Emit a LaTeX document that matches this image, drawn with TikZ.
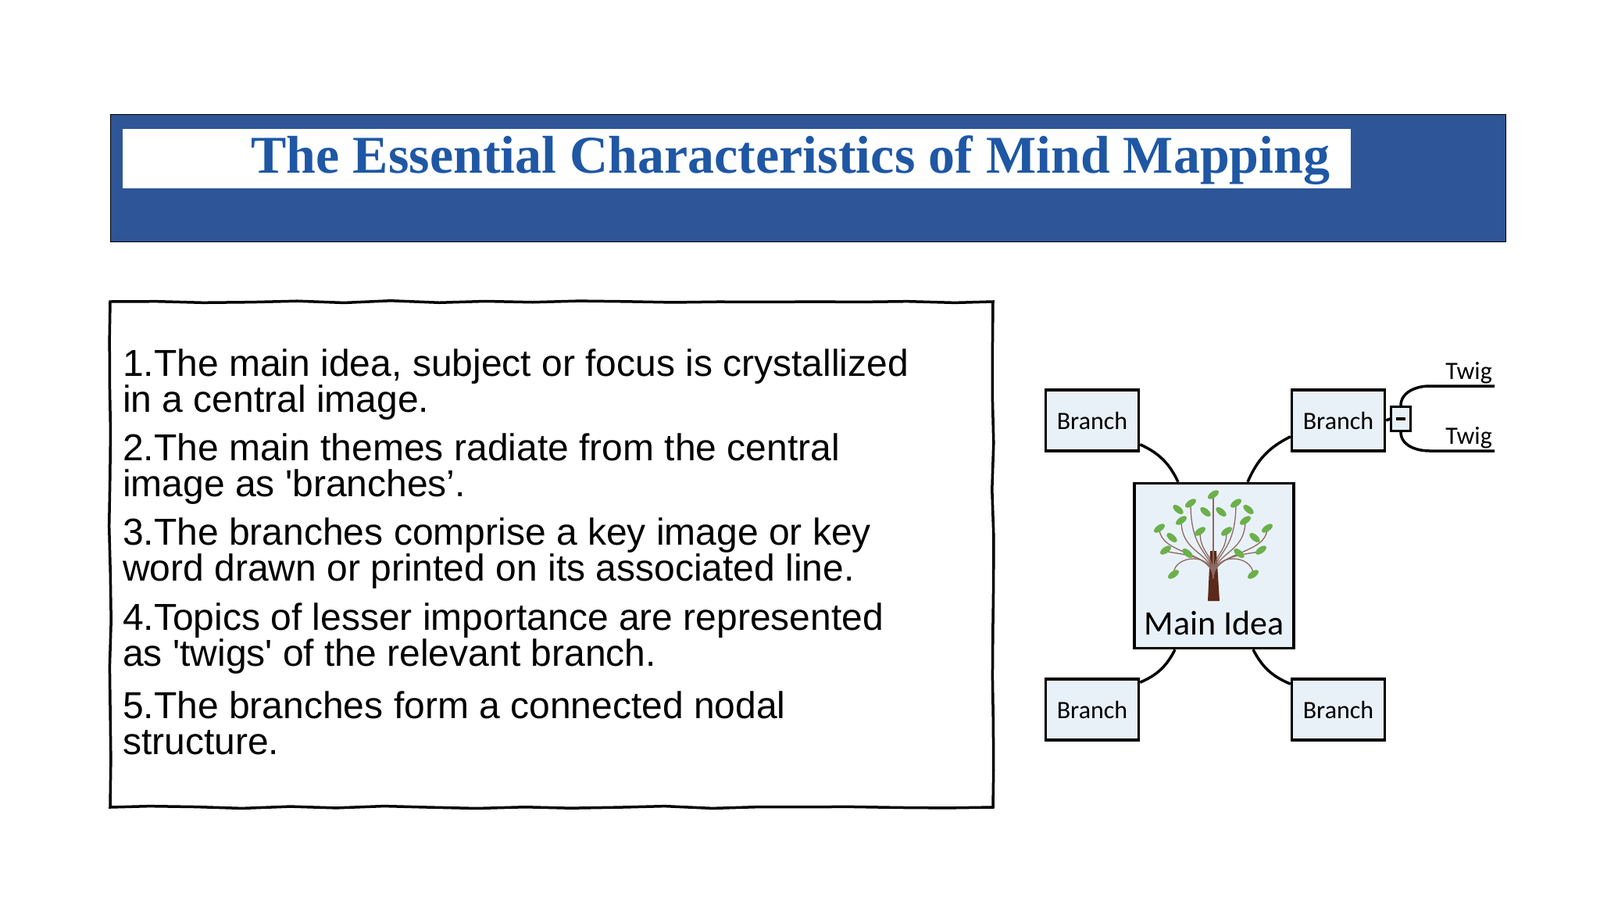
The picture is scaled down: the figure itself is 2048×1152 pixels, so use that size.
\documentclass[tikz,border=0pt]{standalone}
\usepackage{fontspec}
\setmainfont{Liberation Sans}
\newfontfamily\titlefont{Liberation Serif}
\newfontfamily\mapfont{Carlito}
\usetikzlibrary{positioning, arrows.meta, decorations.pathmorphing}
\definecolor{bandblue}{HTML}{2E5597}
\definecolor{titleblue}{HTML}{1F57A4}
\definecolor{boxfill}{HTML}{E9F1F8}
\definecolor{leafgreen}{HTML}{6BB04A}
\definecolor{trunk}{HTML}{5A2A1A}
\tikzset{
  branch/.style={draw, line width=3.5pt, fill=boxfill, minimum width=119pt, minimum height=78pt,
    font=\mapfont\fontsize{32}{36}\selectfont},
  link/.style={line width=3.5pt},
  twig/.style={anchor=south east, inner sep=3pt, font=\mapfont\fontsize{32}{34}\selectfont},
  point/.style={anchor=west, align=left, inner sep=0pt, font=\fontsize{48}{46}\selectfont}
}
\begin{document}
\begin{tikzpicture}[x=1pt, y=-1pt]
  \useasboundingbox (0,0) rectangle (2048,1152);
  \fill[white] (0,0) rectangle (2048,1152);

  % Title band
  \fill[bandblue] (141,146) rectangle (1927,309);
  \draw[black, line width=1pt] (141,146) rectangle (1927,309);
  \fill[white] (157,165) rectangle (1729,241);
  \node[titleblue, font=\titlefont\bfseries\fontsize{68}{72}\selectfont] (title) at (1012,205)
    {The Essential Characteristics of Mind Mapping};

  % Hand drawn text box
  \draw[line width=3.5pt, decorate, decoration={random steps, segment length=60pt, amplitude=1.5pt}]
    (141,386) -- (1271,386) -- (1271,1033) -- (141,1033) -- cycle;

  % Points
  \node[point] (p1) at (157,492) {1.The main idea, subject or focus is crystallized\\in a central image.};
  \node[point] (p2) at (157,600) {2.The main themes radiate from the central\\image as \textquotesingle branches’.};
  \node[point] (p3) at (157,708) {3.The branches comprise a key image or key\\word drawn or printed on its associated line.};
  \node[point] (p4) at (157,817) {4.Topics of lesser importance are represented\\as \textquotesingle twigs\textquotesingle{} of the relevant branch.};
  \node[point] (p5) at (157,925) {5.The branches form a connected nodal\\structure.};

  % Mind map
  \node[branch, minimum width=204pt, minimum height=211pt] (main) at (1554,724) {};
  \node[font=\mapfont\fontsize{44}{48}\selectfont] (mainlabel) at (1554,797) {Main Idea};
  \node[branch] (b1) at (1398,538) {Branch};
  \node[branch] (b2) at (1713,538) {Branch};
  \node[branch] (b3) at (1398,908) {Branch};
  \node[branch] (b4) at (1713,908) {Branch};

  \draw[link] ([yshift=10pt]b1.south east) to[bend left=20] ([xshift=-46pt]main.north);
  \draw[link] ([yshift=20pt]b2.south west) to[bend right=20] ([xshift=43pt]main.north);
  \draw[link] ([xshift=-50pt]main.south) to[bend left=20] ([yshift=-6pt]b3.north east);
  \draw[link] ([xshift=50pt]main.south) to[bend right=20] ([yshift=-8pt]b4.north west);

  % Twigs
  \node[draw, line width=2.5pt, fill=boxfill, minimum width=25pt, minimum height=31pt, inner sep=0pt] (minus) at (1793,536) {};
  \draw[line width=3.5pt] ([xshift=-6pt]minus.center) -- ([xshift=6pt]minus.center);
  \draw[link] (b2.east) -- (minus.west);
  \coordinate (t1) at (1913,494);
  \coordinate (t2) at (1913,577);
  \draw[link] (minus.north) to[out=90, in=180] (1830,494) -- (t1);
  \draw[link] (minus.south) to[out=-90, in=180] (1830,577) -- (t2);
  \node[twig] (tw1) at (t1) {Twig};
  \node[twig] (tw2) at (t2) {Twig};

  % Tree
  \fill[trunk] (1546,769) -- (1549,705) -- (1557,705) -- (1561,769) -- cycle;
  \foreach \ex/\ey in {1484/676, 1492/704, 1502/735, 1512/666, 1524/644, 1536/680,
                       1553/633, 1570/680, 1582/644, 1594/666, 1604/735, 1614/704, 1622/676} {
    \draw[trunk!70, line width=1.3pt] (1553,740) .. controls (1553,705) and (\ex,710) .. (\ex,\ey);
    \fill[leafgreen, rotate around={35:(\ex,\ey)}] (\ex,\ey) ellipse (8pt and 4pt);
  }
  \foreach \ex/\ey in {1500/688, 1520/708, 1543/655, 1563/655, 1586/708, 1606/688, 1508/652, 1598/652} {
    \fill[leafgreen, rotate around={-40:(\ex,\ey)}] (\ex,\ey) ellipse (8pt and 4pt);
  }
\end{tikzpicture}
\end{document}
